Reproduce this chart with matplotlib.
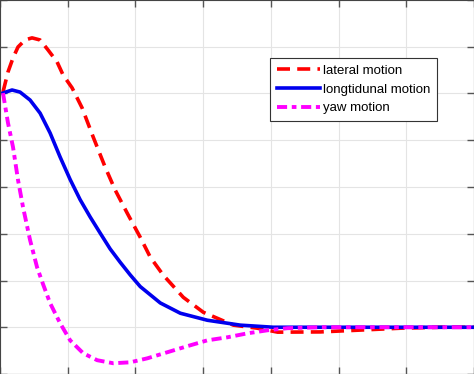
import matplotlib
matplotlib.use('Agg')
import matplotlib.pyplot as plt

# 横轴时间点与曲线值
t_lat = [0.044, 0.118, 0.192, 0.266, 0.370, 0.473, 0.592, 0.710, 0.843, 0.932, 1.065, 1.213,
         1.376, 1.553, 1.701, 1.879, 2.071, 2.219, 2.411, 2.707, 3.003, 3.447, 3.80, 4.10,
         4.73, 5.33, 5.92, 6.51, 7.0]
lateral = [1.006, 1.092, 1.152, 1.199, 1.229, 1.238, 1.229, 1.186, 1.135, 1.079, 1.024, 0.938,
           0.814, 0.685, 0.587, 0.488, 0.385, 0.300, 0.223, 0.128, 0.064, 0.009, -0.004, -0.021,
           -0.02, -0.012, -0.004, 0.0, 0.0]

t_lon = [0.044, 0.178, 0.296, 0.444, 0.592, 0.740, 0.888, 1.036, 1.183, 1.331, 1.479, 1.627,
         1.775, 1.923, 2.071, 2.367, 2.663, 3.062, 3.550, 4.038, 5.0, 7.0]
longitudinal = [1.002, 1.015, 1.006, 0.972, 0.916, 0.831, 0.728, 0.632, 0.546, 0.472, 0.403,
                0.335, 0.278, 0.224, 0.174, 0.104, 0.060, 0.030, 0.009, 0.0, 0.0, 0.0]

t_yaw = [0.044, 0.118, 0.192, 0.266, 0.340, 0.444, 0.547, 0.636, 0.740, 0.888, 1.036, 1.228,
         1.435, 1.672, 1.923, 2.175, 2.470, 2.766, 3.062, 3.358, 3.654, 3.950, 4.246, 4.73,
         5.5, 7.0]
yaw = [1.002, 0.874, 0.771, 0.630, 0.514, 0.373, 0.257, 0.184, 0.103, 0.017, -0.056, -0.111,
       -0.141, -0.154, -0.150, -0.133, -0.107, -0.081, -0.056, -0.043, -0.026, -0.013, -0.004,
       0.0, 0.0, 0.0]

labels = ['lateral motion', 'longtidunal motion', 'yaw motion']

plt.rcParams['font.family'] = ['Liberation Sans', 'DejaVu Sans']
fig = plt.figure(figsize=(4.74, 3.74), dpi=100)
ax = fig.add_axes([0, 0, 1, 1])

ax.plot(t_lat, lateral, color='red', lw=2.6, linestyle=(0, (3.6, 2.0)), label=labels[0])
ax.plot(t_lon, longitudinal, color='#0000ee', lw=2.6, linestyle='-',
        solid_joinstyle='round', label=labels[1])
ax.plot(t_yaw, yaw, color='magenta', lw=2.8, linestyle=(0, (2.6, 1.2, 1.2, 1.2)), label=labels[2])

ax.set_xlim(0, 7)
ax.set_ylim(-0.2, 1.4)
ax.set_xticks(range(0, 8))
ax.set_yticks([-0.2 + 0.2 * i for i in range(9)])
ax.set_xticklabels([])
ax.set_yticklabels([])
ax.tick_params(direction='in', length=5, width=1, colors='#555555',
               top=True, right=True)
ax.grid(True, color='#e4e4e4', lw=0.8)
ax.set_axisbelow(True)
for s in ax.spines.values():
    s.set_color('#444444')

leg = ax.legend(loc='upper left', bbox_to_anchor=(0.57, 0.845), fontsize=9.5,
                fancybox=False, framealpha=1, edgecolor='#333333',
                handlelength=3.3, handletextpad=0.2, borderpad=0.5,
                labelspacing=0.5, borderaxespad=0)
leg.get_frame().set_linewidth(0.8)

fig.savefig('out.png', dpi=100)
